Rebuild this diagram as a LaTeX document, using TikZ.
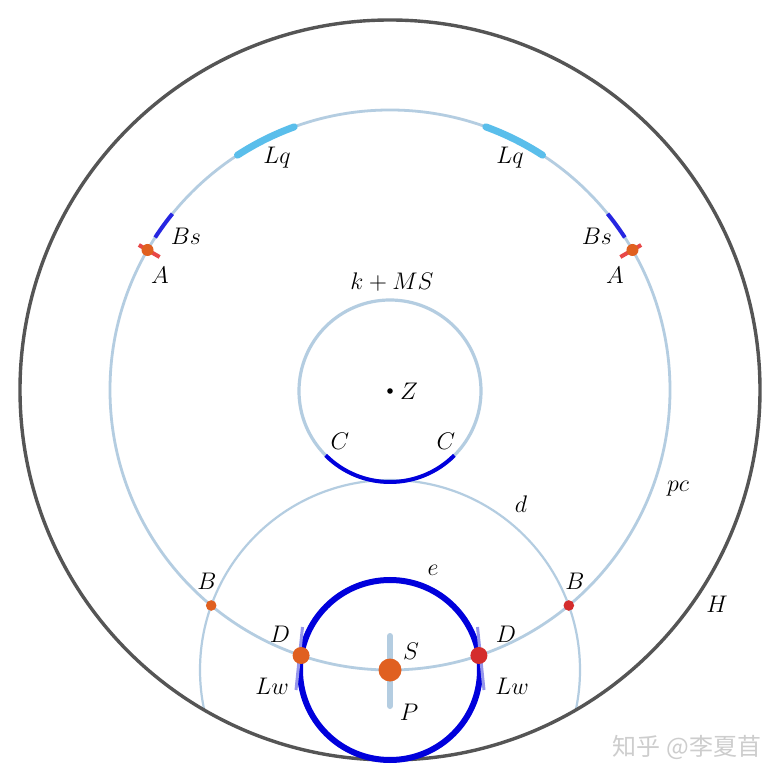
\documentclass[tikz,border=0pt]{standalone}
\usepackage{fontspec}
\newfontfamily\cjk{Noto Sans CJK SC}
\definecolor{pcblue}{RGB}{180,205,225}
\definecolor{dotorange}{RGB}{224,96,32}
\definecolor{dotred}{RGB}{212,45,45}
\definecolor{segred}{RGB}{232,72,72}
\definecolor{lqblue}{RGB}{90,190,235}
\definecolor{deepblue}{RGB}{0,0,220}
\definecolor{lwblue}{RGB}{150,150,235}
\definecolor{hgray}{RGB}{85,85,85}
\definecolor{wmgray}{RGB}{205,205,205}
\tikzset{
  lab/.style={inner sep=0pt, font=\fontsize{12pt}{14pt}\selectfont},
  pt/.style={circle, inner sep=0pt, minimum size=#1},
  lightcirc/.style={draw=pcblue},
}
\begin{document}
\begin{tikzpicture}[x=0.5pt,y=0.5pt]
\useasboundingbox (-390,-390) rectangle (390,390);
\fill[white] (-390,-390) rectangle (390,390);
% circle pc
\draw[lightcirc, line width=1.4pt] (0,0) circle (280);
% circle d clipped by H
\begin{scope}
  \clip (0,0) circle (370);
  \draw[lightcirc, line width=1.1pt] (0,-280) circle (190);
\end{scope}
% circle k+MS
\draw[lightcirc, line width=1.6pt] (0,-1) circle (91);
% circle H
\draw[hgray, line width=1.7pt] (0,0) circle (370);
% circle e
\draw[deepblue, line width=3pt] (0,-280) circle (90);
% C arc
\draw[deepblue, line width=2pt] (0,-1) ++(225:91) arc[start angle=225, end angle=315, radius=91];
% Lq arcs
\draw[lqblue, line width=3.5pt, line cap=round] (110:280) arc[start angle=110, end angle=123, radius=280];
\draw[lqblue, line width=3.5pt, line cap=round] (57:280) arc[start angle=57, end angle=70, radius=280];
% Bs arcs
\draw[deepblue!85!white, line width=2pt] (141:280) arc[start angle=141, end angle=147, radius=280];
\draw[deepblue!85!white, line width=2pt] (33:280) arc[start angle=33, end angle=39, radius=280];
% red segments at A
\draw[segred, line width=2pt] (150:266) -- (150:290);
\draw[segred, line width=2pt] (30:266) -- (30:290);
% Lw segments
\coordinate (lwLa) at (-87.5,-237);
\coordinate (lwLb) at (-94,-300);
\coordinate (lwRa) at (87.5,-237);
\coordinate (lwRb) at (94,-300);
\draw[lwblue, line width=1.5pt] (lwLa) -- (lwLb);
\draw[lwblue, line width=1.5pt] (lwRa) -- (lwRb);
% S line
\coordinate (sTop) at (0,-246);
\coordinate (sBot) at (0,-316);
\draw[pcblue, line width=3pt, line cap=round] (sTop) -- (sBot);
% points
\node[pt=6pt, fill=dotorange] (A1) at (150:280) {};
\node[pt=6pt, fill=dotorange] (A2) at (30:280) {};
\node[pt=5.3pt, fill=dotorange] (B1) at (-178.8,-215.5) {};
\node[pt=5.3pt, fill=dotred] (B2) at (178.8,-215.5) {};
\node[pt=8.5pt, fill=dotorange] (D1) at (-88.9,-265.5) {};
\node[pt=8.5pt, fill=dotred] (D2) at (88.9,-265.5) {};
\node[pt=11.5pt, fill=dotorange] (Sdot) at (0,-280) {};
\node[pt=2.8pt, fill=black] (Zdot) at (0,-1) {};
% labels
\node[lab] (lLq1) at (-113,232) {$Lq$};
\node[lab] (lLq2) at (120,232) {$Lq$};
\node[lab] (lBs1) at (-204,154) {$Bs$};
\node[lab] (lBs2) at (207,154) {$Bs$};
\node[lab] (lA1) at (-230,115) {$A$};
\node[lab] (lA2) at (225,115) {$A$};
\node[lab] (lkMS) at (2,108) {$k+MS$};
\node[lab] (lZ) at (19,-1) {$Z$};
\node[lab] (lC1) at (-50,-51) {$C$};
\node[lab] (lC2) at (56,-51) {$C$};
\node[lab] (ld) at (131,-114) {$d$};
\node[lab] (lpc) at (288,-99) {$pc$};
\node[lab] (le) at (43,-180) {$e$};
\node[lab] (lB1) at (-183,-191) {$B$};
\node[lab] (lB2) at (185,-191) {$B$};
\node[lab] (lH) at (327,-214) {$H$};
\node[lab] (lD1) at (-110,-244) {$D$};
\node[lab] (lD2) at (116,-244) {$D$};
\node[lab] (lLw1) at (-118,-296) {$Lw$};
\node[lab] (lLw2) at (122,-296) {$Lw$};
\node[lab] (lS) at (21,-261) {$S$};
\node[lab] (lP) at (19,-322) {$P$};
% watermark
\node[inner sep=0pt, text=wmgray, font=\cjk\fontsize{12pt}{14pt}\selectfont] (wm) at (297,-357) {知乎 @李夏苜};
\end{tikzpicture}
\end{document}
